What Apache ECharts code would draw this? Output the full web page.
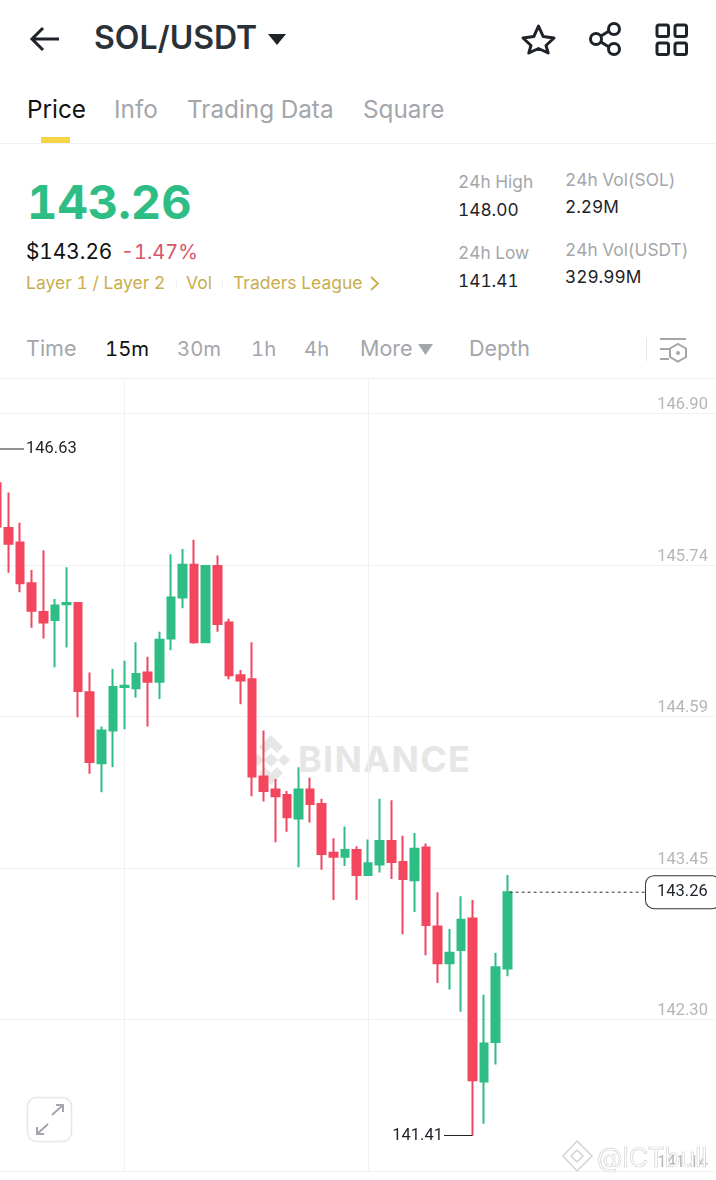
<!DOCTYPE html>
<html>
<head>
<meta charset="utf-8">
<style>
	html, body { margin: 0; padding: 0; background: #fff; }
	body { position: relative; width: 716px; height: 1180px; overflow: hidden; font-family: Inter, Roboto, sans-serif; font-variant-numeric: tabular-nums; }
	.t { position: absolute; white-space: nowrap; line-height: 1; transform: translateY(-50%); }
	.gray { color: #a3a6ab; }
	.dark { color: #1e2329; }
	.gold { color: #c9ae4e; font-size: 17.5px; top: 283px; }
	.tab { font-size: 24.3px; top: 109px; }
	.stat { font-size: 17.3px; }
	.frame { font-size: 21.5px; top: 349px; }
	.num { font-size: 20.3px; }
	.line { position: absolute; background: #f0f1f2; }
	svg { position: absolute; overflow: visible; }
	#chart { position: absolute; left: 0; top: 378px; width: 716px; height: 802px; }
	#binance { position: absolute; left: 298px; top: 742px; font-size: 36px; font-weight: 700; letter-spacing: 1.3px; line-height: 34px; color: #e6e6e6; }
	#tagmark { position: absolute; left: 597px; top: 1142px; font-size: 26.5px; line-height: 30px; color: #fff; -webkit-text-stroke: 0.7px #d4d4d4; letter-spacing: -0.5px; }
</style>
</head>
<body>

<svg style="left:0;top:0" width="716" height="160" fill="none" stroke="#1e2329" stroke-width="3">
	<path d="M59 39H32M43 28L32 39L43 50" />
	<path d="M268 34H286L277 45Z" fill="#1e2329" stroke="none" />
	<path d="M538.500 26L543.200 36.600L554 38L546 45.500L548.200 53L538.500 48.500L528.800 53L531 45.500L523 38L533.800 36.600Z" stroke-linejoin="round" />
	<circle cx="596" cy="39" r="5.500" /><circle cx="614" cy="29" r="5.500" /><circle cx="614" cy="49" r="5.500" />
	<path d="M601 36L609 31M601 42L609 47" />
	<rect x="657" y="25" width="11.500" height="11.500" rx="2" /><rect x="675" y="25" width="11.500" height="11.500" rx="2" />
	<rect x="657" y="43" width="11.500" height="11.500" rx="2" /><rect x="675" y="43" width="11.500" height="11.500" rx="2" />
</svg>
<div class="t dark" style="left:94px;top:38px;font-size:32px;font-weight:600;color:#2b3139">SOL/USDT</div>

<div class="t tab" style="left:27px;color:#111">Price</div>
<div class="t tab gray" style="left:114px">Info</div>
<div class="t tab gray" style="left:187px">Trading Data</div>
<div class="t tab gray" style="left:363px">Square</div>
<div class="line" style="left:41px;top:137px;width:29px;height:6px;background:#f5d547"></div>
<div class="line" style="left:0;top:143px;width:716px;height:1px"></div>

<div class="t" style="left:27px;top:201px;font-size:47px;font-weight:700;color:#2ebd85">143.26</div>
<div class="t" style="left:26px;top:252px;font-size:20.8px;color:#111">$143.26</div>
<div class="t" style="left:121px;top:252px;font-size:20px;color:#d9536b">-1.47%</div>
<div class="t gold" style="left:26px">Layer 1 / Layer 2</div>
<div class="t gold" style="left:186px">Vol</div>
<div class="t gold" style="left:233px">Traders League</div>
<div class="line" style="left:176px;top:279px;width:1px;height:9px"></div>
<div class="line" style="left:222px;top:279px;width:1px;height:9px"></div>
<svg style="left:0;top:0" width="400" height="300" fill="none" stroke="#c9ae4e" stroke-width="1.800"><path d="M371 277L378 283.500L371 290" /></svg>

<div class="t stat gray" style="left:458px;top:182px">24h High</div>
<div class="t stat dark" style="left:458px;top:210px">148.00</div>
<div class="t stat gray" style="left:458px;top:253px">24h Low</div>
<div class="t stat dark" style="left:458px;top:281px">141.41</div>
<div class="t stat gray" style="left:565px;top:180px">24h Vol(SOL)</div>
<div class="t stat dark" style="left:565px;top:207px">2.29M</div>
<div class="t stat gray" style="left:565px;top:250px">24h Vol(USDT)</div>
<div class="t stat dark" style="left:565px;top:277px">329.99M</div>

<div class="t frame gray" style="left:26px">Time</div>
<div class="t frame num" style="left:105px;color:#111">15m</div>
<div class="t frame num gray" style="left:177px">30m</div>
<div class="t frame num gray" style="left:251px">1h</div>
<div class="t frame num gray" style="left:304px">4h</div>
<div class="t frame gray" style="left:360px">More</div>
<div class="t frame gray" style="left:469px">Depth</div>
<svg style="left:0;top:0" width="716" height="380" fill="none" stroke="#a3a6ab" stroke-width="2">
	<path d="M418 344H433L425.500 355Z" fill="#a3a6ab" stroke="none" />
	<path d="M660 339H686M660 349H669M660 359H669" />
	<path d="M678 344L686 348.500V357L678 361.500L670 357V348.500Z" />
	<circle cx="678" cy="353" r="2" fill="#a3a6ab" stroke="none" />
</svg>
<div class="line" style="left:646px;top:338px;width:1px;height:23px;background:#e6e6e6"></div>
<div class="line" style="left:0;top:378px;width:716px;height:1px"></div>

<svg style="left:0;top:0" width="716" height="800" fill="#e6e6e6">
	<path d="M271 735L283 747L277 753L271 747L265 753L259 747ZM252 760L258 754L264 760L258 766ZM264 760L271 753L278 760L271 767ZM278 760L284 754L290 760L284 766ZM259 773L265 767L271 773L277 767L283 773L271 785Z" />
</svg>
<div id="binance">BINANCE</div>

<div id="chart"></div>

<svg style="left:0;top:0" width="716" height="1180" fill="none">
	<rect x="27.500" y="1097.500" width="44" height="44" rx="9" stroke="#e8e8e8" stroke-width="1.500" fill="#fff" />
	<path d="M52 1115L63 1105M56 1105H63V1112M48 1124L37 1134M37 1127V1134H44" stroke="#a3a6ab" stroke-width="2" />
	<path d="M577 1141L592 1156L577 1171L563 1156Z" fill="#fff" stroke="#d4d4d4" stroke-width="1.500" />
	<path d="M577 1150L583 1156L577 1162L571 1156Z" stroke="#d4d4d4" stroke-width="1.500" />
</svg>
<div id="tagmark">@ICTbull</div>

<script src="https://cdn.jsdelivr.net/npm/echarts@6/dist/echarts.min.js"></script>
<script>
var opens = [146.37, 146.03, 145.92, 145.61, 145.39, 145.33, 145.45, 145.46, 144.78, 144.24,
	144.49, 144.82, 144.81, 144.93, 144.86, 145.19, 145.50, 145.75, 145.16, 145.74,
	145.31, 144.91, 144.88, 144.14, 144.04, 144.00, 143.82, 144.04, 143.93, 143.56,
	143.53, 143.58, 143.39, 143.47, 143.65, 143.49, 143.35, 143.60, 143.00, 142.72,
	142.82, 143.06, 141.82, 142.12, 142.68];
var closes = [146.04, 145.91, 145.61, 145.40, 145.31, 145.44, 145.46, 144.79, 144.25, 144.49,
	144.82, 144.83, 144.92, 144.86, 145.18, 145.50, 145.75, 145.16, 145.74, 145.30,
	144.91, 144.87, 144.14, 144.03, 143.99, 143.83, 144.04, 143.93, 143.55, 143.53,
	143.58, 143.39, 143.48, 143.65, 143.49, 143.36, 143.59, 143.01, 142.72, 142.80,
	143.05, 141.83, 142.11, 142.69, 143.26];
var lows = [146.03, 145.69, 145.54, 145.27, 145.19, 144.97, 145.12, 144.59, 144.16, 144.02,
	144.21, 144.50, 144.74, 144.52, 144.73, 145.10, 145.42, 145.15, 145.16, 145.24,
	144.88, 144.69, 143.99, 143.95, 143.64, 143.72, 143.45, 143.79, 143.43, 143.20,
	143.46, 143.20, 143.39, 143.41, 143.36, 142.94, 143.11, 142.78, 142.57, 142.52,
	142.35, 141.41, 141.50, 141.95, 142.62];
var highs = [146.37, 146.30, 146.07, 145.71, 145.86, 145.49, 145.73, 145.46, 144.93, 144.52,
	144.96, 145.02, 145.16, 145.05, 145.24, 145.83, 145.87, 145.94, 145.74, 145.82,
	145.34, 144.95, 145.16, 144.49, 144.12, 144.03, 144.21, 144.13, 143.97, 143.67,
	143.76, 143.61, 143.66, 143.97, 143.96, 143.69, 143.71, 143.63, 143.26, 142.98,
	143.23, 143.20, 142.48, 142.80, 143.39];

var yTickValues = [146.90, 145.748, 144.596, 143.444, 142.292, 141.14];
var yTickLabels = ["146.90", "145.74", "144.59", "143.45", "142.30", "141.14"];
var visibleHigh = 146.63;
var visibleLow = 141.41;
var lastPrice = 143.26;

// 45 candles plus the empty slots to the right of the last one
var SLOTS = 63;
var BAND = 11.6;
var GRID_LEFT = -8.9;
var categories = [];
for (var i = 0; i < SLOTS; i++) {
	categories.push(String(i));
}

var candles = opens.map(function(open, i) {
	return [open, closes[i], lows[i], highs[i]];
});

// left pixel -> position on the hidden value axis used by the price notes
function slot(px) {
	return (px - GRID_LEFT) / BAND;
}

function noteSeries(name, from, to, price, lineStyle, endLabel) {
	return {
		name: name,
		type: "line",
		xAxisIndex: 1,
		yAxisIndex: 0,
		symbol: "none",
		silent: true,
		z: 4,
		lineStyle: lineStyle,
		endLabel: endLabel,
		data: [[from, price], [to, price]]
	};
}

var myChart = echarts.init(document.getElementById("chart"), null, {renderer: "canvas"});
myChart.setOption({
	animation: false,
	backgroundColor: "transparent",
	grid: {left: GRID_LEFT, top: 0, width: BAND * SLOTS, bottom: 9, outerBoundsMode: "none"},
	xAxis: [
		{
			type: "category",
			data: categories,
			boundaryGap: true,
			axisLine: {show: true, lineStyle: {color: "#f0f1f2"}},
			axisTick: {show: false},
			axisLabel: {show: false},
			splitLine: {
				show: true,
				alignWithLabel: true,
				interval: function(index) {
					return index === 11 || index === 32;
				},
				lineStyle: {color: "#f0f1f2", width: 1}
			}
		},
		{type: "value", min: 0, max: SLOTS, show: false, splitLine: {show: false}}
	],
	yAxis: {
		type: "value",
		position: "right",
		min: 141.14,
		max: 147.17,
		axisLine: {show: false},
		axisTick: {show: false, customValues: yTickValues},
		splitLine: {show: true, lineStyle: {color: "#f0f1f2", width: 1}},
		axisLabel: {
			inside: true,
			margin: 14,
			customValues: yTickValues,
			verticalAlign: "bottom",
			color: "#b4b6ba",
			fontFamily: "Roboto",
			fontSize: 16.5,
			formatter: function(value) {
				return yTickLabels[yTickValues.indexOf(value)];
			}
		}
	},
	series: [
		{
			name: "SOL/USDT 15m",
			type: "candlestick",
			barWidth: 8,
			itemStyle: {
				color: "#2ebd85",
				color0: "#f6465d",
				borderColor: "#2ebd85",
				borderColor0: "#f0475f",
				borderWidth: 2
			},
			data: candles
		},
		noteSeries("High", 0, slot(24), visibleHigh, {color: "#222", width: 1}, {
			show: true, distance: 2, color: "#1e2329", fontFamily: "Roboto", fontSize: 16.5,
			formatter: function() { return visibleHigh.toFixed(2); }
		}),
		noteSeries("Low", 41.5, slot(444), visibleLow, {color: "#222", width: 1}, {
			show: true, distance: 0, align: "right", padding: [0, 1, 0, 0],
			color: "#1e2329", fontFamily: "Roboto", fontSize: 16.5,
			formatter: function() { return visibleLow.toFixed(2); }
		}),
		noteSeries("Last", 44.7, slot(646), lastPrice, {color: "#333", width: 1, type: [3, 3]}, {
			show: true, distance: 0, color: "#1e2329", fontFamily: "Roboto", fontSize: 16.5,
			backgroundColor: "#fff", borderColor: "#333", borderWidth: 1, borderRadius: 8,
			padding: [8, 12, 7, 11],
			formatter: function() { return lastPrice.toFixed(2); }
		})
	]
});
</script>
</body>
</html>
